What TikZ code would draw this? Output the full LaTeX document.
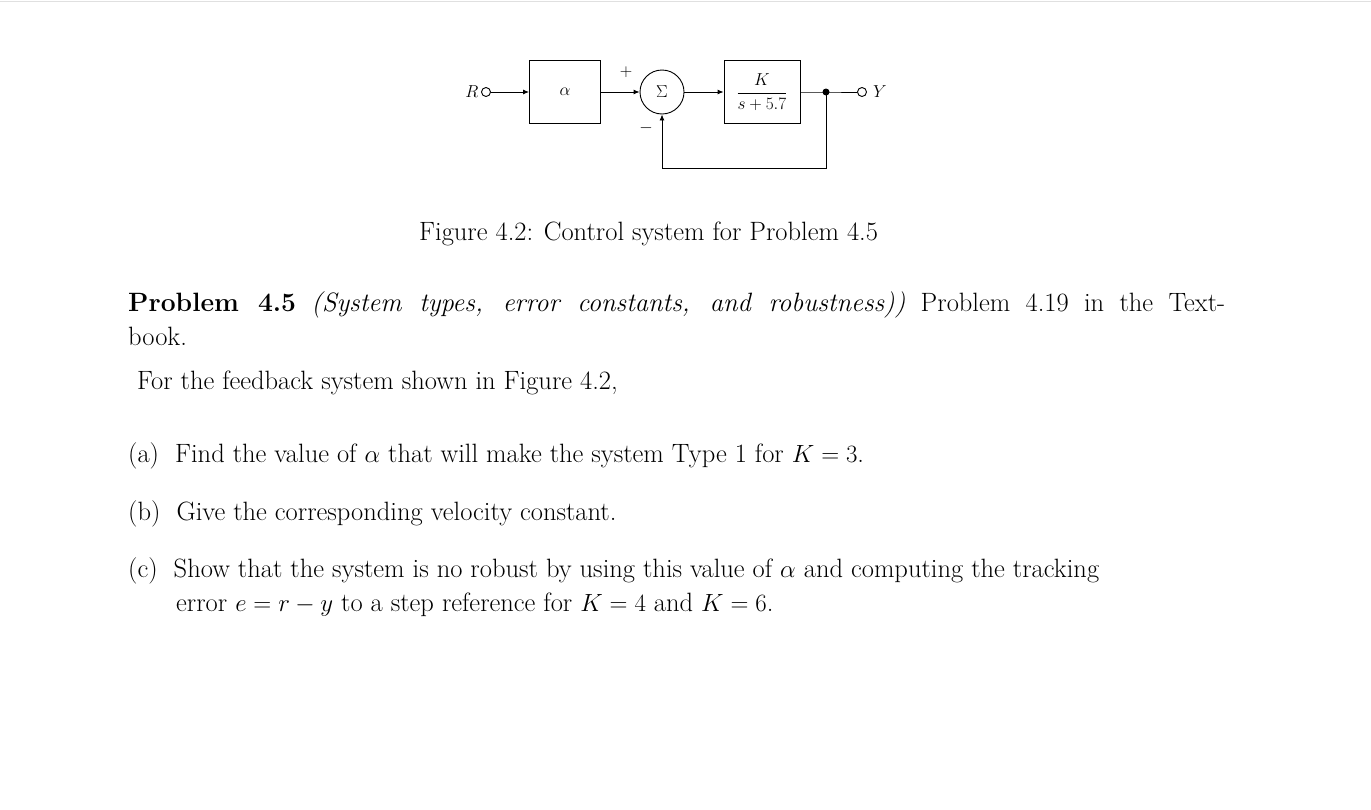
\documentclass[tikz,border=0pt]{standalone}
\usetikzlibrary{arrows.meta}
\begin{document}
\begin{tikzpicture}[x=1pt,y=-1pt,
  blk/.style={draw,line width=0.9pt,minimum width=71pt,minimum height=63pt,inner sep=0pt},
  sig/.style={line width=0.9pt,-{Latex[length=6pt,width=5pt]}},
  ln/.style={line width=0.9pt},
  port/.style={draw,circle,line width=0.9pt,minimum size=9pt,inner sep=0pt},
  txt/.style={anchor=base west,inner sep=0pt,font=\fontsize{26.5}{34}\selectfont},
  dg/.style={font=\fontsize{19}{22}\selectfont}]
\useasboundingbox (0,0) rectangle (1371,809);
\draw[black!12,line width=1pt] (0,1) -- (1371,1);
% diagram
\node[dg] (R) at (472,92) {$R$};
\node[port] (rin) at (486,92) {};
\node[blk,dg] (alpha) at (565,92) {$\alpha$};
\node[draw,circle,line width=0.9pt,minimum size=44pt,inner sep=0pt,dg] (sum) at (662,92) {$\Sigma$};
\node[blk,dg,minimum width=76pt] (Gb) at (762,92) {$\displaystyle\frac{K}{s+5.7}$};
\fill (826,92) circle (3.5pt);
\coordinate (brc) at (826,92);
\node[port] (yout) at (862,92) {};
\node[dg] (Y) at (880,92) {$Y$};
\node[font=\fontsize{16}{18}\selectfont] (plus) at (626,72) {$+$};
\node[font=\fontsize{16}{18}\selectfont] (minus) at (646,128) {$-$};
\coordinate (c1) at (826,168);
\coordinate (c2) at (sum.south |- c1);
\draw[sig] (rin) -- (alpha);
\draw[sig] (alpha) -- (sum);
\draw[sig] (sum) -- (Gb);
\draw[ln] (Gb) -- (brc) -- (yout);
\draw[sig] (brc) -- (c1) -- (c2) -- (sum.south);
% text
\node[txt] (cap) at (419,240) {Figure 4.2: Control system for Problem 4.5};
\node[anchor=north west,inner sep=0pt,text width=1097pt,align=justify,
  font=\fontsize{26.5}{34.5}\selectfont] (p1) at (128,291)
  {\textbf{Problem 4.5} \textit{(System types, error constants, and robustness))} Problem 4.19 in the Text-\linebreak book.};
\node[txt] (p3) at (137,389) {For the feedback system shown in Figure 4.2,};
\node[txt] (a) at (128,462) {(a)\ \ Find the value of $\alpha$ that will make the system Type 1 for $K=3$.};
\node[txt] (b) at (128,520) {(b)\ \ Give the corresponding velocity constant.};
\node[txt] (c) at (128,577) {(c)\ \ Show that the system is no robust by using this value of $\alpha$ and computing the tracking};
\node[txt] (c2t) at (176,611) {error $e=r-y$ to a step reference for $K=4$ and $K=6$.};
\end{tikzpicture}
\end{document}
